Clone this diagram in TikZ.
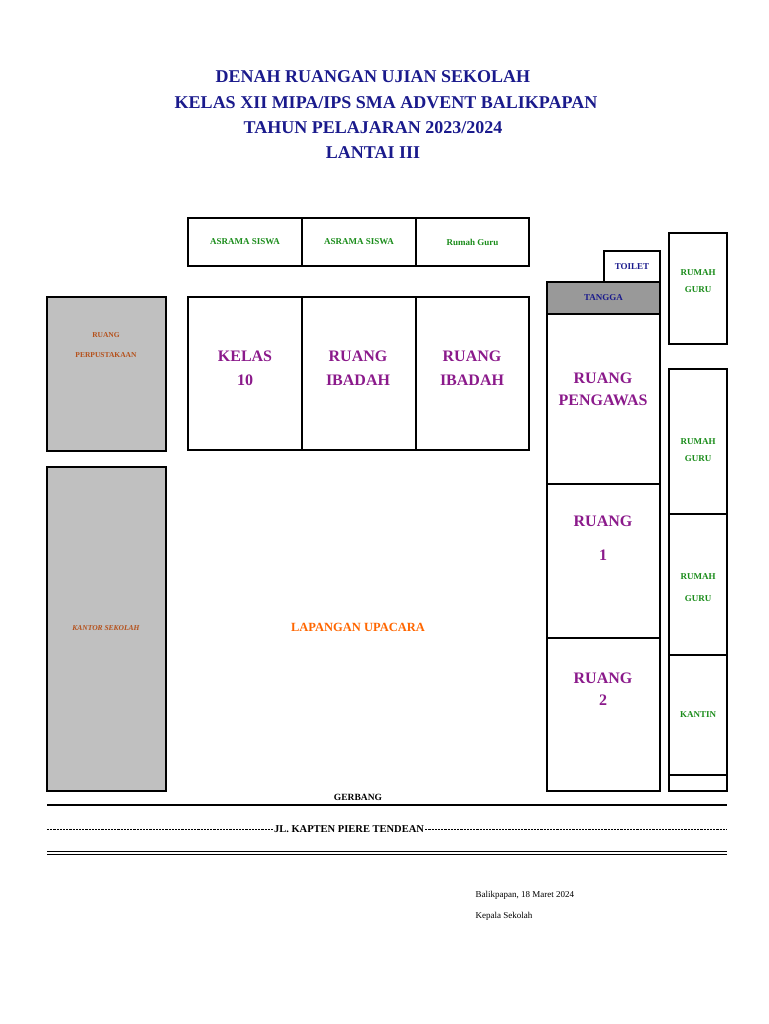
\documentclass[tikz,border=0pt]{standalone}
\usepackage{fontspec}
\setmainfont{Liberation Serif}
\definecolor{tblue}{HTML}{1A1A8C}
\definecolor{tpurp}{HTML}{8B1A8B}
\definecolor{tgreen}{HTML}{1A8C1A}
\definecolor{torange}{HTML}{FF6600}
\definecolor{tbrown}{HTML}{B5501A}
\definecolor{lgrey}{HTML}{C0C0C0}
\definecolor{dgrey}{HTML}{999999}
\begin{document}
\begin{tikzpicture}[x=1pt,y=-1pt,
  room/.style={draw=black,line width=1.5pt},
  lbl/.style={align=center,font=\bfseries},
  ttl/.style={lbl,text=tblue,font=\bfseries\fontsize{18}{20}\selectfont},
  roaddash/.style={line width=0.6pt,dash pattern=on 2.2pt off 1pt},
  ]
\useasboundingbox (0,0) rectangle (768,1024);
% title
\node[ttl] (t1) at (373,77) {DENAH RUANGAN UJIAN SEKOLAH};
\node[ttl] (t2) at (386,103) {KELAS XII MIPA/IPS SMA ADVENT BALIKPAPAN};
\node[ttl] (t3) at (373,128) {TAHUN PELAJARAN 2023/2024};
\node[ttl] (t4) at (373,153) {LANTAI III};
% top row
\draw[room] (188,218) rectangle (302,266) node[midway,lbl,text=tgreen,font=\bfseries\fontsize{9}{11}\selectfont] (a1) {ASRAMA SISWA};
\draw[room] (302,218) rectangle (416,266) node[midway,lbl,text=tgreen,font=\bfseries\fontsize{9}{11}\selectfont] (a2) {ASRAMA SISWA};
\draw[room] (416,218) rectangle (529,266) node[midway,lbl,text=tgreen,font=\bfseries\fontsize{9}{11}\selectfont] (a3) {Rumah Guru};
% class row
\draw[room] (188,297) rectangle (302,450);
\node[lbl,text=tpurp,font=\bfseries\fontsize{16}{24}\selectfont] (k1) at (245,368) {KELAS\\10};
\draw[room] (302,297) rectangle (416,450);
\node[lbl,text=tpurp,font=\bfseries\fontsize{16}{24}\selectfont] (k2) at (358,368) {RUANG\\IBADAH};
\draw[room] (416,297) rectangle (529,450);
\node[lbl,text=tpurp,font=\bfseries\fontsize{16}{24}\selectfont] (k3) at (472,368) {RUANG\\IBADAH};
% left
\draw[room,fill=lgrey] (47,297) rectangle (166,451);
\node[lbl,text=tbrown,font=\bfseries\fontsize{7.5}{20}\selectfont] (p) at (106,345) {RUANG\\PERPUSTAKAAN};
\draw[room,fill=lgrey] (47,467) rectangle (166,791);
\node[lbl,text=tbrown,font=\bfseries\itshape\fontsize{7.5}{9}\selectfont] (ks) at (106,628) {KANTOR SEKOLAH};
% lapangan
\node[text=torange,font=\bfseries\fontsize{12.5}{14}\selectfont] (lap) at (358,627) {LAPANGAN UPACARA};
% middle column
\draw[room] (604,251) rectangle (660,282) node[midway,lbl,text=tblue,font=\bfseries\fontsize{9}{11}\selectfont] (toi) {TOILET};
\draw[room,fill=dgrey] (547,282) rectangle (660,314) node[midway,lbl,text=tblue,font=\bfseries\fontsize{9}{11}\selectfont] (tg) {TANGGA};
\draw[room] (547,314) rectangle (660,484);
\node[lbl,text=tpurp,font=\bfseries\fontsize{16}{22}\selectfont] (rp) at (603,389) {RUANG\\PENGAWAS};
\draw[room] (547,484) rectangle (660,638);
\node[lbl,text=tpurp,font=\bfseries\fontsize{16}{34}\selectfont] (r1) at (603,538) {RUANG\\1};
\draw[room] (547,638) rectangle (660,791);
\node[lbl,text=tpurp,font=\bfseries\fontsize{16}{22}\selectfont] (r2) at (603,689) {RUANG\\2};
% right column
\draw[room] (669,233) rectangle (727,344);
\node[lbl,text=tgreen,font=\bfseries\fontsize{9}{17}\selectfont] (g1) at (698,281) {RUMAH\\GURU};
\draw[room] (669,369) rectangle (727,514);
\node[lbl,text=tgreen,font=\bfseries\fontsize{9}{17}\selectfont] (g2) at (698,450) {RUMAH\\GURU};
\draw[room] (669,514) rectangle (727,655);
\node[lbl,text=tgreen,font=\bfseries\fontsize{9}{22}\selectfont] (g3) at (698,588) {RUMAH\\GURU};
\draw[room] (669,655) rectangle (727,775);
\node[lbl,text=tgreen,font=\bfseries\fontsize{9}{11}\selectfont] (kt) at (698,715) {KANTIN};
\draw[room] (669,775) rectangle (727,791);
% road
\node[font=\bfseries\fontsize{9.5}{11}\selectfont] (gb) at (358,797) {GERBANG};
\draw[line width=2.5pt] (47,805) -- (727,805);
\node[font=\bfseries\fontsize{10.5}{12}\selectfont,inner sep=1pt] (road) at (349,829) {JL. KAPTEN PIERE TENDEAN};
\coordinate (rl) at (47,829.5);
\coordinate (rr) at (727,829.5);
\draw[roaddash] (rl) -- (road.west |- rl);
\draw[roaddash] (road.east |- rr) -- (rr);
\draw[line width=1.2pt] (47,851.5) -- (727,851.5);
\draw[line width=1.2pt] (47,854.5) -- (727,854.5);
% footer
\node[anchor=west,font=\fontsize{9}{11}\selectfont] (f1) at (472,895) {Balikpapan, 18 Maret 2024};
\node[anchor=west,font=\fontsize{9}{11}\selectfont] (f2) at (472,916) {Kepala Sekolah};
\end{tikzpicture}
\end{document}
